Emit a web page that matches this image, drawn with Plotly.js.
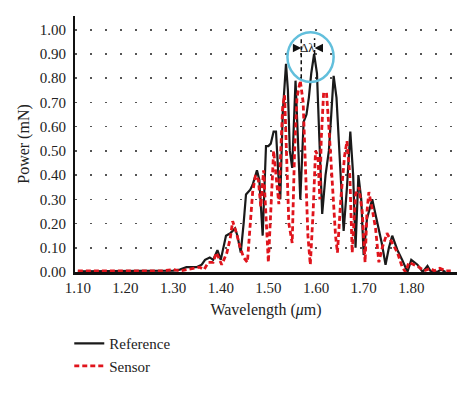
<!DOCTYPE html>
<html>
<head>
<meta charset="utf-8">
<script src="https://cdn.plot.ly/plotly-3.0.1.min.js"></script>
<style>html,body{margin:0;padding:0;background:#fff;}#chart{width:474px;height:394px;}</style>
</head>
<body>
<div id="chart"></div>
<script>
// Reference spectrum
var refX = [1.10,1.20,1.28,1.30,1.314,1.328,1.349,1.36,1.367,1.377,1.384,1.393,1.40,1.411,1.42,1.43,1.435,1.442,1.448,1.453,1.462,1.467,1.476,1.481,1.488,1.495,1.50,1.505,1.511,1.516,1.521,1.525,1.53,1.537,1.541,1.545,1.55,1.557,1.562,1.567,1.574,1.58,1.585,1.59,1.596,1.602,1.607,1.613,1.62,1.627,1.632,1.637,1.643,1.65,1.658,1.665,1.672,1.678,1.683,1.689,1.695,1.70,1.707,1.718,1.729,1.738,1.746,1.753,1.76,1.771,1.781,1.792,1.80,1.813,1.824,1.834,1.84,1.855,1.862,1.872];
var refY = [0.003,0.003,0.003,0.006,0.01,0.02,0.02,0.03,0.05,0.06,0.05,0.09,0.05,0.15,0.16,0.18,0.15,0.08,0.20,0.32,0.34,0.36,0.42,0.38,0.15,0.52,0.52,0.53,0.58,0.58,0.40,0.30,0.65,0.86,0.75,0.50,0.43,0.79,0.55,0.30,0.62,0.65,0.72,0.82,0.90,0.82,0.55,0.24,0.40,0.50,0.65,0.81,0.72,0.45,0.17,0.35,0.58,0.40,0.10,0.40,0.30,0.07,0.22,0.30,0.20,0.12,0.03,0.10,0.15,0.09,0.05,0.00,0.05,0.03,0.00,0.025,0.005,0.00,0.01,0.00];
// Sensor spectrum
var senX = [1.10,1.20,1.28,1.30,1.315,1.328,1.356,1.365,1.374,1.384,1.391,1.402,1.413,1.42,1.425,1.433,1.441,1.448,1.456,1.462,1.467,1.473,1.479,1.484,1.49,1.50,1.506,1.511,1.516,1.522,1.526,1.53,1.534,1.539,1.543,1.55,1.555,1.56,1.567,1.573,1.578,1.583,1.588,1.594,1.599,1.604,1.608,1.611,1.616,1.622,1.627,1.634,1.641,1.645,1.652,1.66,1.665,1.671,1.676,1.683,1.69,1.697,1.703,1.707,1.711,1.718,1.725,1.732,1.739,1.749,1.76,1.771,1.781,1.788,1.795,1.806,1.816,1.827,1.84,1.848,1.86,1.872,1.883];
var senY = [0.005,0.005,0.005,0.01,0.005,0.01,0.02,0.01,0.04,0.04,0.08,0.03,0.08,0.14,0.21,0.16,0.10,0.06,0.04,0.20,0.33,0.40,0.38,0.27,0.42,0.04,0.30,0.50,0.40,0.28,0.50,0.68,0.73,0.40,0.20,0.12,0.50,0.72,0.79,0.70,0.40,0.15,0.03,0.25,0.50,0.48,0.30,0.55,0.74,0.74,0.60,0.35,0.15,0.08,0.30,0.48,0.54,0.40,0.08,0.32,0.35,0.25,0.04,0.25,0.33,0.26,0.18,0.04,0.10,0.16,0.12,0.08,0.02,0.00,0.04,0.03,0.02,0.005,0.015,0.005,0.015,0.005,0.005];
var seriesNames = ['Reference','Sensor'];
var yTicks = [0,0.1,0.2,0.3,0.4,0.5,0.6,0.7,0.8,0.9,1.0];
var xTicks = [1.1,1.2,1.3,1.4,1.5,1.6,1.7,1.8];

var serif = 'Liberation Serif, DejaVu Serif, serif';
var traces = [
  {x: refX, y: refY, name: seriesNames[0], type: 'scatter', mode: 'lines',
   line: {color: '#1a1a1a', width: 2.2}},
  {x: senX, y: senY, name: seriesNames[1], type: 'scatter', mode: 'lines',
   line: {color: '#e0141c', width: 2.8, dash: '5px,3px'}}
];
var layout = {
  width: 474, height: 394,
  margin: {l: 75, r: 17, t: 16, b: 118},
  paper_bgcolor: '#fff', plot_bgcolor: '#fff',
  font: {family: serif, size: 15, color: '#222'},
  showlegend: true,
  legend: {x: -0.015, xanchor: 'left', y: -0.215, yanchor: 'top', orientation: 'v',
           font: {family: serif, size: 15, color: '#222'}, itemwidth: 30, bgcolor: 'rgba(0,0,0,0)'},
  xaxis: {range: [1.094, 1.896], tickvals: xTicks, tickformat: '.2f', showgrid: false, zeroline: false,
          showline: true, linecolor: '#111', linewidth: 2.5, ticks: '', tickfont: {size: 15},
          title: {text: 'Wavelength (<i>μ</i>m)', font: {size: 16}, standoff: 10}},
  yaxis: {range: [0, 1.057], tickvals: yTicks, tickformat: '.2f', showgrid: true, gridcolor: '#555',
          gridwidth: 1.5, griddash: '2px,13px', zeroline: false, showline: true, linecolor: '#111',
          linewidth: 2, ticks: '', tickfont: {size: 15}, ticklabelstandoff: 4,
          title: {text: 'Power (mN)', font: {size: 16}, standoff: 6}},
  shapes: [
    {type: 'circle', xref: 'x', yref: 'y', x0: 1.540, x1: 1.637, y0: 0.785, y1: 0.99,
     line: {color: '#62bfdc', width: 2.5}},
    {type: 'line', xref: 'x', yref: 'y', x0: 1.569, x1: 1.569, y0: 0.80, y1: 0.965,
     line: {color: '#111', width: 1.5, dash: '4px,3px'}},
    {type: 'line', xref: 'x', yref: 'y', x0: 1.597, x1: 1.597, y0: 0.90, y1: 0.965,
     line: {color: '#111', width: 1.5, dash: '4px,3px'}}
  ],
  annotations: [
    {x: 1.583, y: 0.925, xref: 'x', yref: 'y', text: 'Δλ', showarrow: false,
     font: {family: serif, size: 13, color: '#222'}},
    {x: 1.569, y: 0.925, ax: 1.551, ay: 0.925, axref: 'x', ayref: 'y', xref: 'x', yref: 'y',
     text: '', showarrow: true, arrowhead: 2, arrowsize: 1.2, arrowwidth: 1.4, arrowcolor: '#111'},
    {x: 1.597, y: 0.925, ax: 1.615, ay: 0.925, axref: 'x', ayref: 'y', xref: 'x', yref: 'y',
     text: '', showarrow: true, arrowhead: 2, arrowsize: 1.2, arrowwidth: 1.4, arrowcolor: '#111'}
  ]
};
Plotly.newPlot('chart', traces, layout, {displayModeBar: false, staticPlot: true});
</script>
</body>
</html>
